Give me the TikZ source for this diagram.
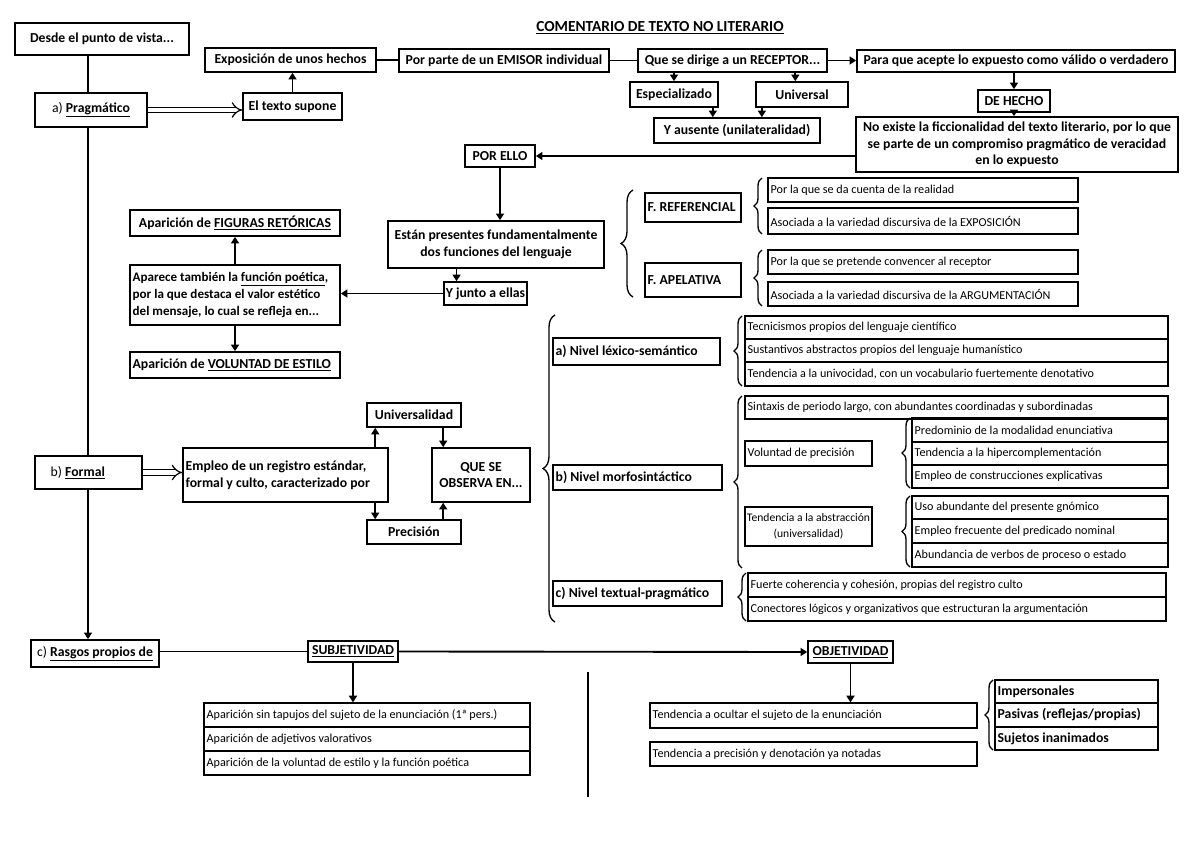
\documentclass[tikz,border=0pt]{standalone}
\usepackage{fontspec}
\setmainfont{Carlito}
\usetikzlibrary{arrows.meta,decorations.pathreplacing,calc}

\tikzset{
  box/.style={draw, line width=1.2pt, inner sep=1pt, font=\fontsize{10.3}{12.5}\selectfont\bfseries},
  small/.style={font=\fontsize{9.1}{10.8}\selectfont, line width=0.9pt},
  conn/.style={line width=1.4pt},
  arr/.style={conn, -{Triangle[length=5pt,width=6pt]}},
  brc/.style={decorate, decoration={brace, amplitude=#1}, line width=1pt},
  brc/.default=6pt,
  dbl/.style={double, double distance=3.2pt, line width=0.9pt, -{Implies}},
}

\newcommand\mkbox[7][]{%
  \pgfmathsetmacro\bxw{(#5-#3)*0.75}%
  \pgfmathsetmacro\bxh{(#6-#4)*0.75}%
  \pgfmathsetmacro\bxx{(#3+#5)/2}%
  \pgfmathsetmacro\bxy{(#4+#6)/2}%
  \node[box,minimum width=\bxw pt,minimum height=\bxh pt,align=center,#1] (#2) at (\bxx,\bxy) {#7};}
\newcommand\mklbox[7][]{%
  \pgfmathsetmacro\bxw{(#5-#3)*0.75-4}%
  \pgfmathsetmacro\bxh{(#6-#4)*0.75}%
  \pgfmathsetmacro\bxx{(#3+#5)/2}%
  \pgfmathsetmacro\bxy{(#4+#6)/2}%
  \node[box,text width=\bxw pt,inner xsep=2pt,minimum height=\bxh pt,align=flush left,#1] (#2) at (\bxx,\bxy) {#7};}

\begin{document}
\begin{tikzpicture}[x=0.75pt,y=-0.75pt]
\fill[white] (0,0) rectangle (1200,849);
\useasboundingbox (0,0) rectangle (1200,849);

\node[font=\fontsize{11.5}{13}\selectfont\bfseries] (title) at (660,28) {\underline{COMENTARIO DE TEXTO NO LITERARIO}};

% ---- top row
\mkbox{desde}{15}{23}{189}{55}{Desde el punto de vista...}
\mkbox{prag}{35}{93}{147}{127}{{\mdseries a)} \underline{Pragmático}}
\mkbox{texto}{243}{93}{342}{120}{El texto supone}
\mkbox{expo}{205}{48}{376}{72}{Exposición de unos hechos}
\mkbox{emisor}{399}{49}{609}{72}{Por parte de un EMISOR individual}
\mkbox{recep}{638}{49}{827}{72}{Que se dirige a un RECEPTOR...}
\mkbox{para}{857}{50}{1175}{72}{Para que acepte lo expuesto como válido o verdadero}
\mkbox{esp}{630}{82}{718}{107}{Especializado}
\mkbox{uni}{756}{82}{848}{107}{Universal}
\mkbox{aus}{654}{118}{820}{143}{Y ausente (unilateralidad)}
\mkbox{hecho}{978}{90}{1050}{112}{DE HECHO}
\mkbox{noex}{856}{117}{1178}{172}{No existe la ficcionalidad del texto literario, por lo que\\se parte de un compromiso pragmático de veracidad\\en lo expuesto}
\mkbox{porello}{465}{145}{535}{167}{POR ELLO}
\mkbox{estan}{388}{221}{604}{268}{Están presentes fundamentalmente\\dos funciones del lenguaje}
\mkbox{junto}{444}{282}{527}{305}{Y junto a ellas}
\mkbox{figs}{130}{210}{340}{236}{Aparición de \underline{FIGURAS RETÓRICAS}}
\mklbox[font=\fontsize{9.8}{13}\selectfont\bfseries]{poet}{130}{265}{340}{325}{Aparece también la \underline{función poética},\\por la que destaca el valor estético\\del mensaje, lo cual se refleja en...}
\mklbox{volun}{130}{352}{340}{378}{Aparición de \underline{VOLUNTAD DE ESTILO}}

% ---- functions
\mklbox{fref}{645}{193}{741}{222}{F. REFERENCIAL}
\mklbox{fape}{645}{263}{741}{297}{F. APELATIVA}
\mklbox[small]{r1}{768}{178}{1078}{202}{Por la que se da cuenta de la realidad}
\mklbox[small]{r2}{768}{208}{1078}{234}{Asociada a la variedad discursiva de la EXPOSICIÓN}
\mklbox[small]{a1}{768}{250}{1078}{274}{Por la que se pretende convencer al receptor}
\mklbox[small]{a2}{768}{282}{1078}{306}{Asociada a la variedad discursiva de la ARGUMENTACIÓN}

% ---- levels
\mklbox{lex}{553}{338}{720}{365}{a) Nivel léxico-semántico}
\mklbox[small]{l1}{745}{316}{1168}{339}{Tecnicismos propios del lenguaje científico}
\mklbox[small]{l2}{745}{339}{1168}{362}{Sustantivos abstractos propios del lenguaje humanístico}
\mklbox[small]{l3}{745}{362}{1168}{386}{Tendencia a la univocidad, con un vocabulario fuertemente denotativo}
\mklbox{mor}{553}{465}{722}{490}{b) Nivel morfosintáctico}
\mklbox[small]{m1}{745}{396}{1168}{419}{Sintaxis de periodo largo, con abundantes coordinadas y subordinadas}
\mklbox[small]{vol}{745}{441}{872}{466}{Voluntad de precisión}
\mklbox[small]{v1}{912}{418}{1168}{442}{Predominio de la modalidad enunciativa}
\mklbox[small]{v2}{912}{442}{1168}{465}{Tendencia a la hipercomplementación}
\mklbox[small]{v3}{912}{465}{1168}{488}{Empleo de construcciones explicativas}
\mkbox[small,font=\fontsize{8.7}{12}\selectfont,inner xsep=0pt]{abs}{745}{507}{872}{546}{Tendencia a la abstracción\\(universalidad)}
\mklbox[small]{t1}{912}{496}{1168}{519}{Uso abundante del presente gnómico}
\mklbox[small]{t2}{912}{519}{1168}{543}{Empleo frecuente del predicado nominal}
\mklbox[small]{t3}{912}{543}{1168}{567}{Abundancia de verbos de proceso o estado}
\mklbox{txt}{553}{581}{722}{606}{c) Nivel textual-pragmático}
\mklbox[small]{x1}{748}{573}{1166}{597}{Fuerte coherencia y cohesión, propias del registro culto}
\mklbox[small]{x2}{748}{597}{1166}{621}{Conectores lógicos y organizativos que estructuran la argumentación}

% ---- formal
\mkbox{formal}{35}{456}{142}{489}{{\mdseries b)} \underline{Formal}\hspace*{16pt}}
\mklbox{emp}{183}{448}{388}{502}{Empleo de un registro estándar,\\formal y culto, caracterizado por}
\mkbox{univ}{367}{403}{461}{427}{Universalidad}
\mkbox{prec}{367}{520}{461}{544}{Precisión}
\mkbox{que}{432}{448}{530}{502}{QUE SE\\OBSERVA EN...}

% ---- bottom
\mkbox{rasgos}{31}{640}{159}{667}{{\mdseries c)} \underline{Rasgos propios de}}
\mkbox{subj}{308}{641}{398}{662}{\underline{SUBJETIVIDAD}}
\mkbox{obj}{808}{641}{893}{663}{\underline{OBJETIVIDAD}}
\mklbox[small]{s1}{204}{703}{530}{727}{Aparición sin tapujos del sujeto de la enunciación (1ª pers.)}
\mklbox[small]{s2}{204}{727}{530}{751}{Aparición de adjetivos valorativos}
\mklbox[small]{s3}{204}{751}{530}{775}{Aparición de la voluntad de estilo y la función poética}
\mklbox[small]{o1}{650}{703}{977}{728}{Tendencia a ocultar el sujeto de la enunciación}
\mklbox[small]{o2}{650}{742}{977}{766}{Tendencia a precisión y denotación ya notadas}
\mklbox{b1}{995}{680}{1158}{703}{Impersonales}
\mklbox{b2}{995}{703}{1158}{727}{Pasivas (reflejas/propias)}
\mklbox{b3}{995}{727}{1158}{750}{Sujetos inanimados}

% ---- connectors
\coordinate (vx) at (88,0);
\draw[conn] (desde.south -| vx) -- (prag.north -| vx);
\draw[conn] (prag.south -| vx) -- (formal.north -| vx);
\draw[arr] (formal.south -| vx) -- (rasgos.north -| vx);
\draw[dbl] (prag.east) -- (prag.east -| texto.west);
\draw[arr] (texto.north) -- (texto.north |- expo.south);
\draw[conn] (expo.east) -- (expo.east -| emisor.west);
\draw[conn] (emisor.east) -- (emisor.east -| recep.west);
\draw[arr] (recep.east) -- (recep.east -| para.west);
\draw[arr] (esp.north |- recep.south) -- (esp.north);
\draw[arr] ([xshift=-5pt]uni.north |- recep.south) -- ([xshift=-5pt]uni.north);
\draw[arr] ([xshift=-4.5pt]esp.south east) -- ([xshift=-4.5pt]esp.south east |- aus.north);
\draw[arr] ([xshift=5pt]uni.south west) -- ([xshift=5pt]uni.south west |- aus.north);
\draw[arr] (hecho.north |- para.south) -- (hecho.north);
\draw[arr] (hecho.south) -- (hecho.south |- noex.north);
\draw[arr] (noex.west |- porello.east) -- (porello.east);
\draw[arr] (porello.south) -- (porello.south |- estan.north);
\draw[arr] ([xshift=10pt]junto.north west |- estan.south) -- ([xshift=10pt]junto.north west);
\draw[arr] (junto.west) -- (junto.west -| poet.east);
\draw[arr] (figs.south |- poet.north) -- (figs.south);
\draw[arr] (poet.south) -- (poet.south |- volun.north);
\draw[dbl] (formal.east) -- (formal.east -| emp.west);
\draw[arr] ([xshift=6.75pt]univ.south west |- emp.north) -- ([xshift=6.75pt]univ.south west);
\draw[arr] ([xshift=6.75pt]prec.north west |- emp.south) -- ([xshift=6.75pt]prec.north west);
\draw[arr] ([xshift=9pt]que.north west |- univ.south) -- ([xshift=9pt]que.north west);
\draw[arr] ([xshift=9pt]que.south west |- prec.north) -- ([xshift=9pt]que.south west);
\draw[conn] (subj.west -| rasgos.east) -- (subj.west);
\draw[arr] (subj.east) -- (obj.west);
\draw[arr] (subj.south) -- (subj.south |- s1.north);
\draw[arr] (obj.south) -- (obj.south |- o1.north);
\draw[conn] (588,672) -- (588,797);

% ---- braces
\draw[brc=9pt] (633,297) -- (633,190);
\draw[brc] (762,234) -- (762,178);
\draw[brc] (762,306) -- (762,250);
\draw[brc=9pt] (555,622) -- (555,315);
\draw[brc] (742,386) -- (742,316);
\draw[brc] (742,568) -- (742,396);
\draw[brc] (910,488) -- (910,418);
\draw[brc] (910,567) -- (910,496);
\draw[brc] (746,621) -- (746,573);
\draw[brc] (993,750) -- (993,680);
\end{tikzpicture}
\end{document}
